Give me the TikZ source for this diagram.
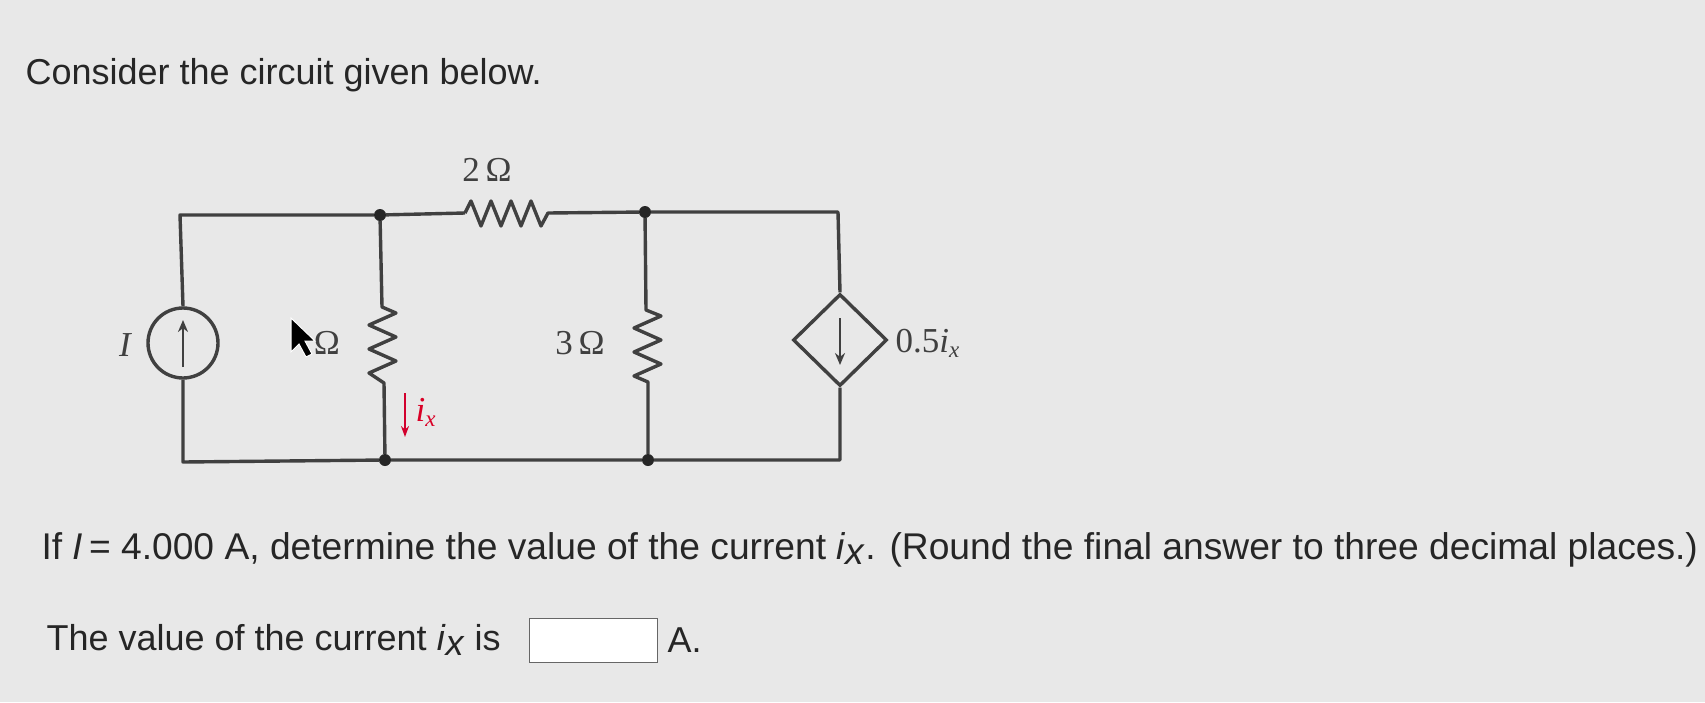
\documentclass[tikz,border=0pt]{standalone}
\usepackage{fontspec}
\usetikzlibrary{shapes.geometric,arrows.meta}
\setmainfont{Liberation Sans}
\newfontfamily\ser{Liberation Serif}
\begin{document}
\begin{tikzpicture}[x=1pt,y=-1pt,
  wire/.style={draw=black!75,line width=3.4pt,line join=round},
  dot/.style={circle,fill=black!85,inner sep=0pt,minimum size=12pt},
  clab/.style={font=\ser\fontsize{35}{40}\selectfont,text=black!75},
  qtext/.style={font=\fontsize{36}{40}\selectfont,text=black!85,anchor=west}]
\fill[black!9] (0,0) rectangle (1705,702);
\useasboundingbox (0,0) rectangle (1705,702);
\node[qtext] (t1) at (22,75) {Consider the circuit given below.};
% nodes
\coordinate (tl) at (180,215);
\coordinate (bl) at (183,462);
\node[dot] (A) at (380,215) {};
\node[dot] (C) at (385,460) {};
\node[dot] (B) at (645,212) {};
\node[dot] (D) at (648,460) {};
\coordinate (tr) at (838,212);
\coordinate (br) at (840,460);
\node[circle,draw=black!75,line width=3.4pt,minimum size=70pt,inner sep=0pt] (src) at (183,343) {};
\node[diamond,draw=black!75,line width=3.4pt,minimum width=94pt,minimum height=92pt,inner sep=0pt] (dep) at (840,340) {};
% wires
\draw[wire] (src.north) -- (tl) -- (A) -- (465,213);
\draw[wire] (465,213) -- (471,201) -- (481,226) -- (491,201) -- (501,226) -- (511,201) -- (521,226) -- (531,201) -- (541,226) -- (548,213) -- (B) -- (tr) -- (dep.north);
\draw[wire] (src.south) -- (bl) -- (C) -- (D) -- (br) -- (dep.south);
\draw[wire] (A) -- (382,307) -- (396,313) -- (369,325) -- (396,337) -- (369,349) -- (396,361) -- (369,373) -- (384,383) -- (C);
\draw[wire] (B) -- (646,310) -- (661,316) -- (634,328) -- (661,340) -- (634,352) -- (661,364) -- (634,376) -- (648,382) -- (D);
\draw[black!75,line width=2.8pt,-{Stealth[length=12pt,width=10pt]}] (183,367) -- (183,320);
\draw[black!75,line width=2.8pt,-{Stealth[length=12pt,width=10pt]}] (840,318) -- (840,365);
\draw[purple!70!red,line width=2.4pt,-{Stealth[length=11pt,width=8pt]}] (405,393) -- (405,437);
% labels
\node[clab] (l2) at (487,170) {2\,Ω};
\node[clab] (l3) at (580,343) {3\,Ω};
\node[clab] (l5) at (327,343) {Ω};
\node[clab] (lI) at (125,345) {\itshape I};
\node[clab,anchor=west] (ld) at (892,343) {0.5\itshape i\kern0pt\raisebox{-5pt}{\fontsize{23}{26}\selectfont x}};
\node[clab,text=purple!60!red,anchor=west] (lx) at (412,412) {\itshape i\raisebox{-5pt}{\fontsize{23}{26}\selectfont x}};
% cursor
\filldraw[fill=black,draw=white,line width=1pt] (291,318) -- (291,352) -- (299,344) -- (306,357) -- (312,354) -- (305,341) -- (315,341) -- cycle;
% question
\node[qtext,font=\fontsize{37.2}{40}\selectfont] (q) at (38,550) {If \textit{I}\,= 4.000 A, determine the value of the current \textit{i}\raisebox{-5pt}{\textit{x}}. (Round the final answer to three decimal places.)};
\node[qtext] (q2) at (43,640) {The value of the current \textit{i}\raisebox{-5pt}{\textit{x}} is};
\node[draw=black!60,fill=white,line width=1pt,minimum width=128pt,minimum height=44pt,inner sep=0pt] (box) at (593,640) {};
\node[qtext] (a) at (664,640) {A.};
\end{tikzpicture}
\end{document}
